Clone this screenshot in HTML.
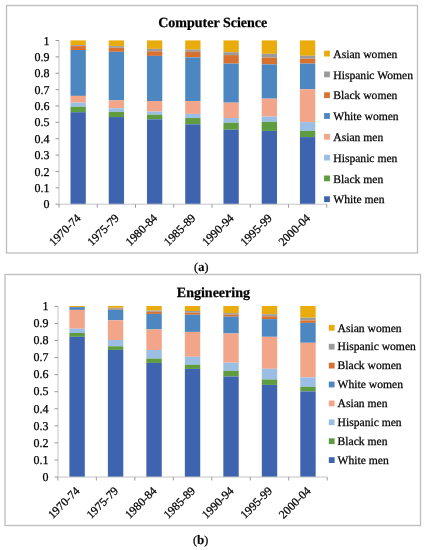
<!DOCTYPE html><html><head><meta charset="utf-8"><style>html,body{margin:0;padding:0;background:#fff;}svg{display:block;}text{font-family:'Liberation Serif', 'Times New Roman', serif;fill:#000;stroke:#000;stroke-width:0.25px;text-rendering:geometricPrecision;}</style></head><body>
<svg width="425" height="550" viewBox="0 0 425 550">
<rect width="425" height="550" fill="#fff"/>
<rect x="6.5" y="5.5" width="411.0" height="247.5" fill="none" stroke="#bcbcbc" stroke-width="1.3"/>
<text x="212.75" y="27.1" text-anchor="middle" font-weight="bold" font-size="14" stroke-width="0.1">Computer Science</text>
<rect x="70.50" y="40.40" width="15.3" height="4.70" fill="#E9AC0C"/>
<rect x="70.50" y="45.10" width="15.3" height="1.00" fill="#9B9B9B"/>
<rect x="70.50" y="46.10" width="15.3" height="3.90" fill="#D7712F"/>
<rect x="70.50" y="50.00" width="15.3" height="45.90" fill="#4D87C2"/>
<rect x="70.50" y="95.90" width="15.3" height="6.70" fill="#F2A588"/>
<rect x="70.50" y="102.60" width="15.3" height="4.10" fill="#9BBEE4"/>
<rect x="70.50" y="106.70" width="15.3" height="5.50" fill="#5F9B3F"/>
<rect x="70.50" y="112.20" width="15.3" height="92.00" fill="#3F64AF"/>
<rect x="108.74" y="40.40" width="15.3" height="5.70" fill="#E9AC0C"/>
<rect x="108.74" y="46.10" width="15.3" height="1.65" fill="#9B9B9B"/>
<rect x="108.74" y="47.75" width="15.3" height="4.05" fill="#D7712F"/>
<rect x="108.74" y="51.80" width="15.3" height="48.55" fill="#4D87C2"/>
<rect x="108.74" y="100.35" width="15.3" height="7.90" fill="#F2A588"/>
<rect x="108.74" y="108.25" width="15.3" height="3.75" fill="#9BBEE4"/>
<rect x="108.74" y="112.00" width="15.3" height="5.05" fill="#5F9B3F"/>
<rect x="108.74" y="117.05" width="15.3" height="87.15" fill="#3F64AF"/>
<rect x="146.98" y="40.40" width="15.3" height="8.50" fill="#E9AC0C"/>
<rect x="146.98" y="48.90" width="15.3" height="2.40" fill="#9B9B9B"/>
<rect x="146.98" y="51.30" width="15.3" height="4.60" fill="#D7712F"/>
<rect x="146.98" y="55.90" width="15.3" height="45.10" fill="#4D87C2"/>
<rect x="146.98" y="101.00" width="15.3" height="10.60" fill="#F2A588"/>
<rect x="146.98" y="111.60" width="15.3" height="3.10" fill="#9BBEE4"/>
<rect x="146.98" y="114.70" width="15.3" height="4.60" fill="#5F9B3F"/>
<rect x="146.98" y="119.30" width="15.3" height="84.90" fill="#3F64AF"/>
<rect x="185.22" y="40.40" width="15.3" height="9.30" fill="#E9AC0C"/>
<rect x="185.22" y="49.70" width="15.3" height="2.10" fill="#9B9B9B"/>
<rect x="185.22" y="51.80" width="15.3" height="5.60" fill="#D7712F"/>
<rect x="185.22" y="57.40" width="15.3" height="43.75" fill="#4D87C2"/>
<rect x="185.22" y="101.15" width="15.3" height="12.75" fill="#F2A588"/>
<rect x="185.22" y="113.90" width="15.3" height="4.15" fill="#9BBEE4"/>
<rect x="185.22" y="118.05" width="15.3" height="6.25" fill="#5F9B3F"/>
<rect x="185.22" y="124.30" width="15.3" height="79.90" fill="#3F64AF"/>
<rect x="223.46" y="40.40" width="15.3" height="11.80" fill="#E9AC0C"/>
<rect x="223.46" y="52.20" width="15.3" height="2.90" fill="#9B9B9B"/>
<rect x="223.46" y="55.10" width="15.3" height="8.50" fill="#D7712F"/>
<rect x="223.46" y="63.60" width="15.3" height="39.05" fill="#4D87C2"/>
<rect x="223.46" y="102.65" width="15.3" height="15.35" fill="#F2A588"/>
<rect x="223.46" y="118.00" width="15.3" height="4.75" fill="#9BBEE4"/>
<rect x="223.46" y="122.75" width="15.3" height="6.95" fill="#5F9B3F"/>
<rect x="223.46" y="129.70" width="15.3" height="74.50" fill="#3F64AF"/>
<rect x="261.70" y="40.40" width="15.3" height="13.40" fill="#E9AC0C"/>
<rect x="261.70" y="53.80" width="15.3" height="3.80" fill="#9B9B9B"/>
<rect x="261.70" y="57.60" width="15.3" height="6.80" fill="#D7712F"/>
<rect x="261.70" y="64.40" width="15.3" height="34.25" fill="#4D87C2"/>
<rect x="261.70" y="98.65" width="15.3" height="17.95" fill="#F2A588"/>
<rect x="261.70" y="116.60" width="15.3" height="5.30" fill="#9BBEE4"/>
<rect x="261.70" y="121.90" width="15.3" height="9.00" fill="#5F9B3F"/>
<rect x="261.70" y="130.90" width="15.3" height="73.30" fill="#3F64AF"/>
<rect x="299.94" y="40.40" width="15.3" height="15.40" fill="#E9AC0C"/>
<rect x="299.94" y="55.80" width="15.3" height="2.90" fill="#9B9B9B"/>
<rect x="299.94" y="58.70" width="15.3" height="4.90" fill="#D7712F"/>
<rect x="299.94" y="63.60" width="15.3" height="25.70" fill="#4D87C2"/>
<rect x="299.94" y="89.30" width="15.3" height="32.80" fill="#F2A588"/>
<rect x="299.94" y="122.10" width="15.3" height="8.80" fill="#9BBEE4"/>
<rect x="299.94" y="130.90" width="15.3" height="6.20" fill="#5F9B3F"/>
<rect x="299.94" y="137.10" width="15.3" height="67.10" fill="#3F64AF"/>
<path d="M59.0 40.5V204.2H326.71" fill="none" stroke="#c4c4c4" stroke-width="1"/>
<path d="M55.5 204.20H59.0M55.5 187.83H59.0M55.5 171.46H59.0M55.5 155.09H59.0M55.5 138.72H59.0M55.5 122.35H59.0M55.5 105.98H59.0M55.5 89.61H59.0M55.5 73.24H59.0M55.5 56.87H59.0M55.5 40.50H59.0M59.03 204.2V207.7M97.27 204.2V207.7M135.51 204.2V207.7M173.75 204.2V207.7M211.99 204.2V207.7M250.23 204.2V207.7M288.47 204.2V207.7M326.71 204.2V207.7" fill="none" stroke="#9a9a9a" stroke-width="1"/>
<text x="49.5" y="208.30" text-anchor="end" font-size="12">0</text>
<text x="49.5" y="191.93" text-anchor="end" font-size="12">0.1</text>
<text x="49.5" y="175.56" text-anchor="end" font-size="12">0.2</text>
<text x="49.5" y="159.19" text-anchor="end" font-size="12">0.3</text>
<text x="49.5" y="142.82" text-anchor="end" font-size="12">0.4</text>
<text x="49.5" y="126.45" text-anchor="end" font-size="12">0.5</text>
<text x="49.5" y="110.08" text-anchor="end" font-size="12">0.6</text>
<text x="49.5" y="93.71" text-anchor="end" font-size="12">0.7</text>
<text x="49.5" y="77.34" text-anchor="end" font-size="12">0.8</text>
<text x="49.5" y="60.97" text-anchor="end" font-size="12">0.9</text>
<text x="49.5" y="44.60" text-anchor="end" font-size="12">1</text>
<text transform="translate(81.55 218.70) rotate(-45)" text-anchor="end" font-size="11.8">1970-74</text>
<text transform="translate(119.79 218.70) rotate(-45)" text-anchor="end" font-size="11.8">1975-79</text>
<text transform="translate(158.03 218.70) rotate(-45)" text-anchor="end" font-size="11.8">1980-84</text>
<text transform="translate(196.27 218.70) rotate(-45)" text-anchor="end" font-size="11.8">1985-89</text>
<text transform="translate(234.51 218.70) rotate(-45)" text-anchor="end" font-size="11.8">1990-94</text>
<text transform="translate(272.75 218.70) rotate(-45)" text-anchor="end" font-size="11.8">1995-99</text>
<text transform="translate(310.99 218.70) rotate(-45)" text-anchor="end" font-size="11.8">2000-04</text>
<rect x="324.1" y="50.70" width="5.8" height="5.8" fill="#E9AC0C"/>
<text x="333.3" y="57.70" font-size="11.6">Asian women</text>
<rect x="324.1" y="71.50" width="5.8" height="5.8" fill="#9B9B9B"/>
<text x="333.3" y="78.50" font-size="11.6">Hispanic Women</text>
<rect x="324.1" y="92.30" width="5.8" height="5.8" fill="#D7712F"/>
<text x="333.3" y="99.30" font-size="11.6">Black women</text>
<rect x="324.1" y="113.10" width="5.8" height="5.8" fill="#4D87C2"/>
<text x="333.3" y="120.10" font-size="11.6">White women</text>
<rect x="324.1" y="133.90" width="5.8" height="5.8" fill="#F2A588"/>
<text x="333.3" y="140.90" font-size="11.6">Asian men</text>
<rect x="324.1" y="154.70" width="5.8" height="5.8" fill="#9BBEE4"/>
<text x="333.3" y="161.70" font-size="11.6">Hispanic men</text>
<rect x="324.1" y="175.50" width="5.8" height="5.8" fill="#5F9B3F"/>
<text x="333.3" y="182.50" font-size="11.6">Black men</text>
<rect x="324.1" y="196.30" width="5.8" height="5.8" fill="#3F64AF"/>
<text x="333.3" y="203.30" font-size="11.6">White men</text>
<text x="194.0" y="271.0" font-size="12">(<tspan font-weight="bold" font-size="13" stroke-width="0.1">a</tspan>)</text>
<rect x="5.0" y="274.5" width="415.5" height="251.0" fill="none" stroke="#bcbcbc" stroke-width="1.3"/>
<text x="213.4" y="296.5" text-anchor="middle" font-weight="bold" font-size="14" stroke-width="0.1">Engineering</text>
<rect x="69.40" y="306.00" width="15.4" height="1.10" fill="#E9AC0C"/>
<rect x="69.40" y="307.10" width="15.4" height="2.80" fill="#4D87C2"/>
<rect x="69.40" y="309.90" width="15.4" height="18.80" fill="#F2A588"/>
<rect x="69.40" y="328.70" width="15.4" height="4.30" fill="#9BBEE4"/>
<rect x="69.40" y="333.00" width="15.4" height="3.80" fill="#5F9B3F"/>
<rect x="69.40" y="336.80" width="15.4" height="140.20" fill="#3F64AF"/>
<rect x="107.88" y="305.90" width="15.4" height="1.90" fill="#E9AC0C"/>
<rect x="107.88" y="307.80" width="15.4" height="0.90" fill="#9B9B9B"/>
<rect x="107.88" y="308.70" width="15.4" height="0.90" fill="#D7712F"/>
<rect x="107.88" y="309.60" width="15.4" height="10.70" fill="#4D87C2"/>
<rect x="107.88" y="320.30" width="15.4" height="19.70" fill="#F2A588"/>
<rect x="107.88" y="340.00" width="15.4" height="6.30" fill="#9BBEE4"/>
<rect x="107.88" y="346.30" width="15.4" height="3.60" fill="#5F9B3F"/>
<rect x="107.88" y="349.90" width="15.4" height="127.10" fill="#3F64AF"/>
<rect x="146.36" y="306.00" width="15.4" height="4.60" fill="#E9AC0C"/>
<rect x="146.36" y="310.60" width="15.4" height="1.20" fill="#9B9B9B"/>
<rect x="146.36" y="311.80" width="15.4" height="2.10" fill="#D7712F"/>
<rect x="146.36" y="313.90" width="15.4" height="15.50" fill="#4D87C2"/>
<rect x="146.36" y="329.40" width="15.4" height="20.60" fill="#F2A588"/>
<rect x="146.36" y="350.00" width="15.4" height="8.60" fill="#9BBEE4"/>
<rect x="146.36" y="358.60" width="15.4" height="4.30" fill="#5F9B3F"/>
<rect x="146.36" y="362.90" width="15.4" height="114.10" fill="#3F64AF"/>
<rect x="184.84" y="306.00" width="15.4" height="5.00" fill="#E9AC0C"/>
<rect x="184.84" y="311.00" width="15.4" height="1.60" fill="#9B9B9B"/>
<rect x="184.84" y="312.60" width="15.4" height="2.10" fill="#D7712F"/>
<rect x="184.84" y="314.70" width="15.4" height="17.20" fill="#4D87C2"/>
<rect x="184.84" y="331.90" width="15.4" height="24.85" fill="#F2A588"/>
<rect x="184.84" y="356.75" width="15.4" height="7.95" fill="#9BBEE4"/>
<rect x="184.84" y="364.70" width="15.4" height="4.20" fill="#5F9B3F"/>
<rect x="184.84" y="368.90" width="15.4" height="108.10" fill="#3F64AF"/>
<rect x="223.32" y="306.00" width="15.4" height="7.10" fill="#E9AC0C"/>
<rect x="223.32" y="313.10" width="15.4" height="1.60" fill="#9B9B9B"/>
<rect x="223.32" y="314.70" width="15.4" height="2.00" fill="#D7712F"/>
<rect x="223.32" y="316.70" width="15.4" height="16.80" fill="#4D87C2"/>
<rect x="223.32" y="333.50" width="15.4" height="29.20" fill="#F2A588"/>
<rect x="223.32" y="362.70" width="15.4" height="8.15" fill="#9BBEE4"/>
<rect x="223.32" y="370.85" width="15.4" height="5.65" fill="#5F9B3F"/>
<rect x="223.32" y="376.50" width="15.4" height="100.50" fill="#3F64AF"/>
<rect x="261.80" y="306.00" width="15.4" height="8.20" fill="#E9AC0C"/>
<rect x="261.80" y="314.20" width="15.4" height="2.10" fill="#9B9B9B"/>
<rect x="261.80" y="316.30" width="15.4" height="2.80" fill="#D7712F"/>
<rect x="261.80" y="319.10" width="15.4" height="17.70" fill="#4D87C2"/>
<rect x="261.80" y="336.80" width="15.4" height="31.95" fill="#F2A588"/>
<rect x="261.80" y="368.75" width="15.4" height="10.75" fill="#9BBEE4"/>
<rect x="261.80" y="379.50" width="15.4" height="5.40" fill="#5F9B3F"/>
<rect x="261.80" y="384.90" width="15.4" height="92.10" fill="#3F64AF"/>
<rect x="300.28" y="306.00" width="15.4" height="11.70" fill="#E9AC0C"/>
<rect x="300.28" y="317.70" width="15.4" height="2.70" fill="#9B9B9B"/>
<rect x="300.28" y="320.40" width="15.4" height="2.50" fill="#D7712F"/>
<rect x="300.28" y="322.90" width="15.4" height="19.90" fill="#4D87C2"/>
<rect x="300.28" y="342.80" width="15.4" height="34.60" fill="#F2A588"/>
<rect x="300.28" y="377.40" width="15.4" height="9.40" fill="#9BBEE4"/>
<rect x="300.28" y="386.80" width="15.4" height="4.60" fill="#5F9B3F"/>
<rect x="300.28" y="391.40" width="15.4" height="85.60" fill="#3F64AF"/>
<path d="M58.0 306.4V477.0H327.22" fill="none" stroke="#c4c4c4" stroke-width="1"/>
<path d="M54.5 477.00H58.0M54.5 459.94H58.0M54.5 442.88H58.0M54.5 425.82H58.0M54.5 408.76H58.0M54.5 391.70H58.0M54.5 374.64H58.0M54.5 357.58H58.0M54.5 340.52H58.0M54.5 323.46H58.0M54.5 306.40H58.0M57.86 477.0V480.5M96.34 477.0V480.5M134.82 477.0V480.5M173.30 477.0V480.5M211.78 477.0V480.5M250.26 477.0V480.5M288.74 477.0V480.5M327.22 477.0V480.5" fill="none" stroke="#9a9a9a" stroke-width="1"/>
<text x="48.5" y="481.10" text-anchor="end" font-size="12">0</text>
<text x="48.5" y="463.97" text-anchor="end" font-size="12">0.1</text>
<text x="48.5" y="446.84" text-anchor="end" font-size="12">0.2</text>
<text x="48.5" y="429.71" text-anchor="end" font-size="12">0.3</text>
<text x="48.5" y="412.58" text-anchor="end" font-size="12">0.4</text>
<text x="48.5" y="395.45" text-anchor="end" font-size="12">0.5</text>
<text x="48.5" y="378.32" text-anchor="end" font-size="12">0.6</text>
<text x="48.5" y="361.19" text-anchor="end" font-size="12">0.7</text>
<text x="48.5" y="344.06" text-anchor="end" font-size="12">0.8</text>
<text x="48.5" y="326.93" text-anchor="end" font-size="12">0.9</text>
<text x="48.5" y="309.80" text-anchor="end" font-size="12">1</text>
<text transform="translate(80.50 491.50) rotate(-45)" text-anchor="end" font-size="11.8">1970-74</text>
<text transform="translate(118.98 491.50) rotate(-45)" text-anchor="end" font-size="11.8">1975-79</text>
<text transform="translate(157.46 491.50) rotate(-45)" text-anchor="end" font-size="11.8">1980-84</text>
<text transform="translate(195.94 491.50) rotate(-45)" text-anchor="end" font-size="11.8">1985-89</text>
<text transform="translate(234.42 491.50) rotate(-45)" text-anchor="end" font-size="11.8">1990-94</text>
<text transform="translate(272.90 491.50) rotate(-45)" text-anchor="end" font-size="11.8">1995-99</text>
<text transform="translate(311.38 491.50) rotate(-45)" text-anchor="end" font-size="11.8">2000-04</text>
<rect x="328.8" y="324.90" width="5.8" height="5.8" fill="#E9AC0C"/>
<text x="337.6" y="331.50" font-size="11.6">Asian women</text>
<rect x="328.8" y="343.80" width="5.8" height="5.8" fill="#9B9B9B"/>
<text x="337.6" y="350.40" font-size="11.6">Hispanic women</text>
<rect x="328.8" y="362.70" width="5.8" height="5.8" fill="#D7712F"/>
<text x="337.6" y="369.30" font-size="11.6">Black women</text>
<rect x="328.8" y="381.60" width="5.8" height="5.8" fill="#4D87C2"/>
<text x="337.6" y="388.20" font-size="11.6">White women</text>
<rect x="328.8" y="400.50" width="5.8" height="5.8" fill="#F2A588"/>
<text x="337.6" y="407.10" font-size="11.6">Asian men</text>
<rect x="328.8" y="419.40" width="5.8" height="5.8" fill="#9BBEE4"/>
<text x="337.6" y="426.00" font-size="11.6">Hispanic men</text>
<rect x="328.8" y="438.30" width="5.8" height="5.8" fill="#5F9B3F"/>
<text x="337.6" y="444.90" font-size="11.6">Black men</text>
<rect x="328.8" y="457.20" width="5.8" height="5.8" fill="#3F64AF"/>
<text x="337.6" y="463.80" font-size="11.6">White men</text>
<text x="193.0" y="543.6" font-size="12">(<tspan font-weight="bold" font-size="13" stroke-width="0.1">b</tspan>)</text>
</svg></body></html>
